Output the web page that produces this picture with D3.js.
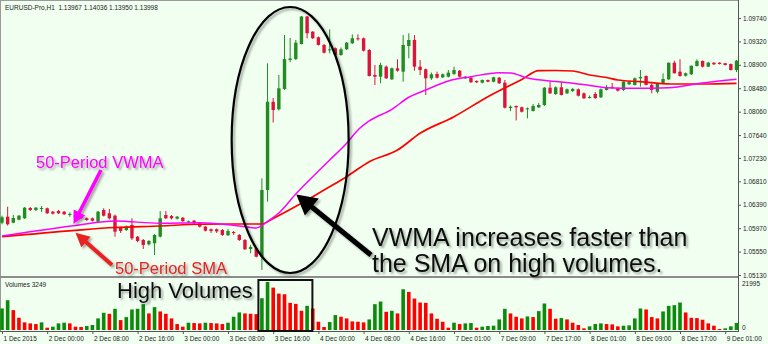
<!DOCTYPE html>
<html><head><meta charset="utf-8">
<script src="https://cdn.jsdelivr.net/npm/d3@7"></script>
<style>
html,body{margin:0;padding:0;background:#f0fff0;}
svg{display:block;}
</style></head><body>
<svg id="c" width="768" height="344"></svg>
<script>
// ---------- DATA (EURUSD H1, 1 Dec 2015 16:00 .. 9 Dec 2015 02:00) ----------
const open=[1.06068,1.06176,1.06068,1.06122,1.06147,1.06332,1.06296,1.06314,1.06327,1.06266,
1.06278,1.06266,1.06212,1.06206,1.06189,1.06147,1.06147,1.06086,1.06296,1.06237,
1.06194,1.05979,1.05937,1.06028,1.05817,1.05758,1.05681,1.05699,1.05817,1.06206,
1.06189,1.06140,1.06158,1.06076,1.06104,1.06058,1.05997,1.05950,1.05950,1.05937,
1.05843,1.05901,1.05848,1.05758,1.05597,1.05609,1.05458,1.06655,1.08238,1.08102,
1.08467,1.08987,1.09003,1.09274,1.09767,1.09494,1.09394,1.09256,1.09166,1.09197,
1.09076,1.09179,1.09287,1.09376,1.09376,1.09166,1.08718,1.08687,1.08867,1.08640,
1.08838,1.08777,1.09238,1.09346,1.08867,1.08820,1.08658,1.08736,1.08676,1.08687,
1.08736,1.08795,1.08658,1.08669,1.08611,1.08580,1.08628,1.08597,1.08669,1.08580,
1.08126,1.08162,1.08138,1.08108,1.08072,1.08138,1.08180,1.08490,1.08377,1.08497,
1.08389,1.08431,1.08461,1.08389,1.08311,1.08377,1.08317,1.08449,1.08503,1.08479,
1.08449,1.08551,1.08539,1.08658,1.08700,1.08539,1.08418,1.08569,1.08640,1.08938,
1.08777,1.08705,1.08730,1.08879,1.08969,1.08867,1.08938,1.08938,1.08928,1.08915,
1.08807];
const high=[1.06194,1.06355,1.06207,1.06207,1.06350,1.06350,1.06350,1.06368,1.06341,1.06278,
1.06296,1.06278,1.06255,1.06224,1.06206,1.06162,1.06162,1.06278,1.06327,1.06314,
1.06215,1.05997,1.06019,1.06147,1.05830,1.05776,1.05758,1.05866,1.06278,1.06278,
1.06206,1.06189,1.06171,1.06104,1.06117,1.06072,1.06010,1.05965,1.05965,1.05955,
1.05955,1.05919,1.05866,1.05776,1.05669,1.05624,1.06864,1.08927,1.08305,1.08717,
1.09435,1.09381,1.09346,1.09776,1.09776,1.09506,1.09409,1.09274,1.09537,1.09211,
1.09211,1.09310,1.09447,1.09447,1.09390,1.09184,1.08897,1.08938,1.08888,1.08852,
1.09000,1.09435,1.09466,1.09435,1.08987,1.08834,1.08762,1.08777,1.08744,1.08807,
1.08867,1.08807,1.08700,1.08682,1.08620,1.08637,1.08637,1.08687,1.08682,1.08628,
1.08171,1.08171,1.08153,1.08135,1.08197,1.08215,1.08503,1.08598,1.08512,1.08598,
1.08476,1.08485,1.08476,1.08404,1.08350,1.08413,1.08476,1.08539,1.08575,1.08494,
1.08602,1.08611,1.08673,1.08807,1.08709,1.08569,1.08575,1.08748,1.08942,1.08974,
1.09000,1.08762,1.08888,1.09000,1.08978,1.08951,1.08945,1.08945,1.08937,1.08924,
1.08987];
const low=[1.06040,1.06015,1.06058,1.06112,1.06135,1.06278,1.06278,1.06260,1.06224,1.06215,
1.06224,1.06206,1.06176,1.06153,1.06135,1.06099,1.06090,1.06072,1.06180,1.06126,
1.05817,1.05884,1.05919,1.05758,1.05716,1.05597,1.05660,1.05489,1.05803,1.06135,
1.06126,1.06126,1.06081,1.06063,1.06045,1.05983,1.05911,1.05884,1.05884,1.05830,
1.05830,1.05848,1.05740,1.05579,1.05519,1.05445,1.05220,1.06445,1.07864,1.08081,
1.08449,1.08951,1.08987,1.09265,1.09376,1.09363,1.09247,1.09103,1.09107,1.09067,
1.09063,1.09166,1.09274,1.09333,1.09139,1.08691,1.08539,1.08569,1.08646,1.08628,
1.08777,1.08597,1.09017,1.08795,1.08718,1.08359,1.08628,1.08655,1.08664,1.08673,
1.08718,1.08673,1.08646,1.08575,1.08575,1.08566,1.08587,1.08587,1.08557,1.08117,
1.08072,1.07903,1.08045,1.07941,1.08063,1.08126,1.08162,1.08377,1.08359,1.08350,
1.08377,1.08413,1.08332,1.08287,1.08296,1.08287,1.08305,1.08440,1.08470,1.08422,
1.08431,1.08539,1.08530,1.08508,1.08530,1.08389,1.08389,1.08557,1.08628,1.08745,
1.08687,1.08691,1.08718,1.08870,1.08852,1.08861,1.08897,1.08906,1.08888,1.08798,
1.08771];
const close=[1.06165,1.06040,1.06153,1.06194,1.06337,1.06296,1.06337,1.06332,1.06237,1.06230,
1.06237,1.06219,1.06224,1.06171,1.06153,1.06117,1.06104,1.06266,1.06194,1.06147,
1.05907,1.05920,1.05997,1.05788,1.05740,1.05669,1.05740,1.05848,1.06147,1.06147,
1.06147,1.06176,1.06099,1.06094,1.06058,1.05997,1.05925,1.05919,1.05913,1.05848,
1.05919,1.05884,1.05758,1.05591,1.05633,1.05458,1.06655,1.08238,1.08090,1.08479,
1.09003,1.09014,1.09297,1.09767,1.09467,1.09376,1.09256,1.09118,1.09179,1.09076,
1.09179,1.09297,1.09376,1.09358,1.09154,1.08700,1.08687,1.08897,1.08658,1.08838,
1.08795,1.09256,1.09346,1.08867,1.08807,1.08658,1.08730,1.08669,1.08730,1.08759,
1.08807,1.08687,1.08687,1.08587,1.08587,1.08628,1.08597,1.08676,1.08569,1.08131,
1.08149,1.08138,1.08059,1.08120,1.08162,1.08180,1.08490,1.08389,1.08497,1.08359,
1.08461,1.08467,1.08346,1.08300,1.08323,1.08305,1.08461,1.08485,1.08485,1.08436,
1.08598,1.08593,1.08658,1.08682,1.08539,1.08449,1.08569,1.08646,1.08938,1.08748,
1.08700,1.08748,1.08884,1.08969,1.08867,1.08938,1.08910,1.08915,1.08897,1.08807,
1.08974];
const volume=[9860,13650,9100,5610,3490,3030,2730,3490,1060,1520,
3030,3340,3030,1520,1370,1820,2280,5310,7890,7430,
9710,4550,5920,9410,9710,11830,7590,10470,8500,7430,
5310,2730,1520,3340,3190,3030,3340,3190,3030,2730,
3340,6070,8040,7590,7440,7280,14560,21995,19420,16690,
16380,12440,11980,8800,11070,9860,3790,1370,3640,6830,
6070,5310,3940,3790,3490,4850,11830,13050,8340,8800,
7590,18660,17450,14410,12590,12440,7590,5160,3790,1060,
3340,2730,3030,3190,1060,1520,1820,1970,4850,9710,
7590,6070,5310,6220,5920,8650,12140,9710,5160,5460,
4850,3340,2280,760,1670,2730,3030,2730,2580,1670,
1970,2120,5310,9860,9410,5920,5310,8500,11070,11380,
12590,8040,5610,5460,4700,3030,1970,460,760,1670,
3249];
// 50-period moving averages at selected bars
const smaIdx=[0,13,20,28,35,41,46,48,53,57,61,65,70,74,80,86,92,95,98,101,104,107,109,113,115,119,124,130];
const smaVal=[1.05817,1.05932,1.05982,1.06009,1.06040,1.06045,1.06045,1.06145,1.06417,1.06655,1.06894,1.07163,1.07372,1.07672,1.07969,1.08328,1.08637,1.08795,1.08798,1.08789,1.08718,1.08673,1.08628,1.08597,1.08580,1.08556,1.08556,1.08569];
const vwmaIdx=[0,13,20,28,35,41,44,45,47,49,52,55,58,61,63,65,69,72,75,79,83,88,90,93,98,101,104,107,112,118,124,130];
const vwmaVal=[1.05830,1.06018,1.06099,1.06058,1.06068,1.06023,1.05982,1.05973,1.06090,1.06242,1.06583,1.06894,1.07193,1.07493,1.07731,1.07893,1.08102,1.08318,1.08449,1.08610,1.08687,1.08759,1.08753,1.08664,1.08601,1.08569,1.08530,1.08490,1.08479,1.08490,1.08574,1.08640];
const priceTicks=[1.09740,1.09320,1.08900,1.08480,1.08060,1.07640,1.07230,1.06810,1.06390,1.05970,1.05550,1.05130];
const xTickIndex=[0,8,16,24,32,40,48,56,64,72,80,88,96,104,112,120,128];
const xTickLabels=["1 Dec 2015","2 Dec 00:00","2 Dec 08:00","2 Dec 16:00","3 Dec 00:00","3 Dec 08:00","3 Dec 16:00","4 Dec 00:00","4 Dec 08:00","4 Dec 16:00","7 Dec 01:00","7 Dec 09:00","7 Dec 17:00","8 Dec 01:00","8 Dec 09:00","8 Dec 17:00","9 Dec 01:00"];
const titleText="EURUSD-Pro,H1  1.13967 1.14036 1.13950 1.13998";
const volLabel="Volumes 3249";
const volMaxLabel="21995";

// ---------- LAYOUT ----------
const svg=d3.select("#c");
const W=768,H=344, axisX=738, sepY=277, volBase=330, volTop=282, bottomY=331;
const font="'Liberation Sans', Arial, sans-serif";
const bull="#228b22", bear="#dc143c", vUp="#0b8a0b", vDn="#ff0000";

const defs=svg.append("defs");
const f=defs.append("filter").attr("id","sh").attr("x","-30%").attr("y","-30%").attr("width","160%").attr("height","160%");
f.append("feDropShadow").attr("dx",2).attr("dy",2).attr("stdDeviation",1.3).attr("flood-color","#000").attr("flood-opacity",0.35);

svg.append("rect").attr("width",W).attr("height",H).attr("fill","#f0fff0");

const n=open.length;
const x=d3.scaleLinear().domain([0,n-1]).range([2,736.5]);
const y=d3.scaleLinear().domain([1.05130,1.09740]).range([275,18]);
const yv=d3.scaleLinear().domain([0,d3.max(volume)]).range([volBase,volTop]);

// frame
svg.append("line").attr("x1",0.5).attr("x2",0.5).attr("y1",0).attr("y2",bottomY).attr("stroke","#9a9a9a");
svg.append("line").attr("x1",0).attr("x2",axisX).attr("y1",0.5).attr("y2",0.5).attr("stroke","#9a9a9a");
svg.append("line").attr("x1",0).attr("x2",axisX).attr("y1",sepY).attr("y2",sepY).attr("stroke","#8c8c8c").attr("stroke-width",2);
svg.append("line").attr("x1",axisX+0.5).attr("x2",axisX+0.5).attr("y1",0).attr("y2",bottomY).attr("stroke","#555");
svg.append("line").attr("x1",0).attr("x2",axisX+1).attr("y1",bottomY+0.5).attr("y2",bottomY+0.5).attr("stroke","#555");

// candles
const idx=d3.range(n);
const cg=svg.append("g");
cg.selectAll("line.w").data(idx).join("line")
  .attr("x1",i=>x(i)).attr("x2",i=>x(i)).attr("y1",i=>y(high[i])).attr("y2",i=>y(low[i]))
  .attr("stroke",i=>close[i]>=open[i]?bull:bear).attr("stroke-width",1);
cg.selectAll("rect").data(idx).join("rect")
  .attr("x",i=>x(i)-1.7).attr("width",3.4)
  .attr("y",i=>Math.min(y(open[i]),y(close[i])))
  .attr("height",i=>Math.max(1,Math.abs(y(open[i])-y(close[i]))))
  .attr("fill",i=>close[i]>=open[i]?bull:bear);

// moving averages
const line=d3.line().x(d=>x(d[0])).y(d=>y(d[1])).curve(d3.curveMonotoneX);
svg.append("path").datum(smaIdx.map((k,j)=>[k,smaVal[j]])).attr("d",line)
  .attr("fill","none").attr("stroke","#ff0000").attr("stroke-width",1.7);
svg.append("path").datum(vwmaIdx.map((k,j)=>[k,vwmaVal[j]])).attr("d",line)
  .attr("fill","none").attr("stroke","#ff00ff").attr("stroke-width",1.5);

// volumes
svg.append("g").selectAll("rect").data(idx).join("rect")
  .attr("x",i=>x(i)-1.8).attr("width",3.6)
  .attr("y",i=>yv(volume[i])).attr("height",i=>volBase-yv(volume[i]))
  .attr("fill",i=>(i>0&&volume[i]>volume[i-1])||i===0?vUp:vDn);

// right price axis
const ay=svg.append("g").attr("transform",`translate(${axisX},0)`)
  .call(d3.axisRight(y).tickValues(priceTicks).tickFormat(d3.format(".5f")).tickSize(3).tickPadding(2));
ay.select(".domain").remove();
ay.selectAll("line").attr("stroke","#555");
ay.selectAll("text").attr("font-family",font).attr("font-size","6.5px").attr("fill","#222");

// volume axis labels
svg.append("text").attr("x",axisX+4).attr("y",yv(d3.max(volume))+3.5).text(volMaxLabel)
  .attr("font-family",font).attr("font-size","6.5px").attr("fill","#222");
svg.append("text").attr("x",axisX+4).attr("y",yv(0)-0.5).text("0")
  .attr("font-family",font).attr("font-size","6.5px").attr("fill","#222");

// bottom time axis
const ax=svg.append("g").attr("transform",`translate(0,${bottomY})`)
  .call(d3.axisBottom(x).tickValues(xTickIndex).tickFormat((d,i)=>xTickLabels[i]).tickSize(3).tickPadding(2));
ax.select(".domain").remove();
ax.selectAll("line").attr("stroke","#555");
ax.selectAll("text").attr("text-anchor","start").attr("dx","1")
  .attr("font-family",font).attr("font-size","6.5px").attr("fill","#222");

// header labels
svg.append("text").attr("x",5).attr("y",9.5).text(titleText).style("white-space","pre")
  .attr("font-family",font).attr("font-size","6.5px").attr("fill","#222");
svg.append("text").attr("x",5).attr("y",287).text(volLabel)
  .attr("font-family",font).attr("font-size","6.5px").attr("fill","#222");

// ---------- ANNOTATIONS ----------
function arrow(x1,y1,x2,y2,w,hl,hw){
  const dx=x2-x1, dy=y2-y1, L=Math.hypot(dx,dy), ux=dx/L, uy=dy/L, px=-uy, py=ux;
  const bx=x2-ux*hl, by=y2-uy*hl;
  const p=[[x1+px*w/2,y1+py*w/2],[bx+px*w/2,by+py*w/2],[bx+px*hw/2,by+py*hw/2],[x2,y2],
           [bx-px*hw/2,by-py*hw/2],[bx-px*w/2,by-py*w/2],[x1-px*w/2,y1-py*w/2]];
  return "M"+p.map(q=>q[0].toFixed(1)+","+q[1].toFixed(1)).join("L")+"Z";
}
const ann=svg.append("g");
// ellipse around the high-volume rally
ann.append("ellipse").attr("cx",x(51)).attr("cy",140).attr("rx",58.5).attr("ry",133)
  .attr("fill","none").attr("stroke","#000").attr("stroke-width",2.2).attr("filter","url(#sh)");
// box around high volumes
ann.append("rect").attr("x",x(46)-3.5).attr("y",280).attr("width",54).attr("height",51)
  .attr("fill","none").attr("stroke","#111").attr("stroke-width",2);

const vw52=vwmaVal[vwmaIdx.indexOf(52)], vw13=vwmaVal[vwmaIdx.indexOf(13)], sm13=smaVal[smaIdx.indexOf(13)];
ann.append("path").attr("d",arrow(371,255,x(52)+0.5,y(vw52)+0.5,5,20,22)).attr("fill","#000").attr("filter","url(#sh)");
ann.append("path").attr("d",arrow(101,170,x(13)-2,y(vw13)-1.5,3.5,13,13)).attr("fill","#ff00ff").attr("filter","url(#sh)");
ann.append("path").attr("d",arrow(112,265,x(13),y(sm13)+2.5,4,14,14)).attr("fill","#e82222").attr("filter","url(#sh)");

const tf=(s,xx,yy,size,col)=>ann.append("text").attr("x",xx).attr("y",yy).text(s)
  .attr("font-family",font).attr("font-size",size+"px").attr("fill",col).attr("filter","url(#sh)");
tf("50-Period VWMA",36,168,16.5,"#ff00ff");
tf("50-Period SMA",115,273.5,16.5,"#e52222");
tf("VWMA increases faster than",372,246,25,"#111");
tf("the SMA on high volumes.",372,272,25,"#111");
tf("High Volumes",117,298,22,"#111");
</script>
</body></html>
